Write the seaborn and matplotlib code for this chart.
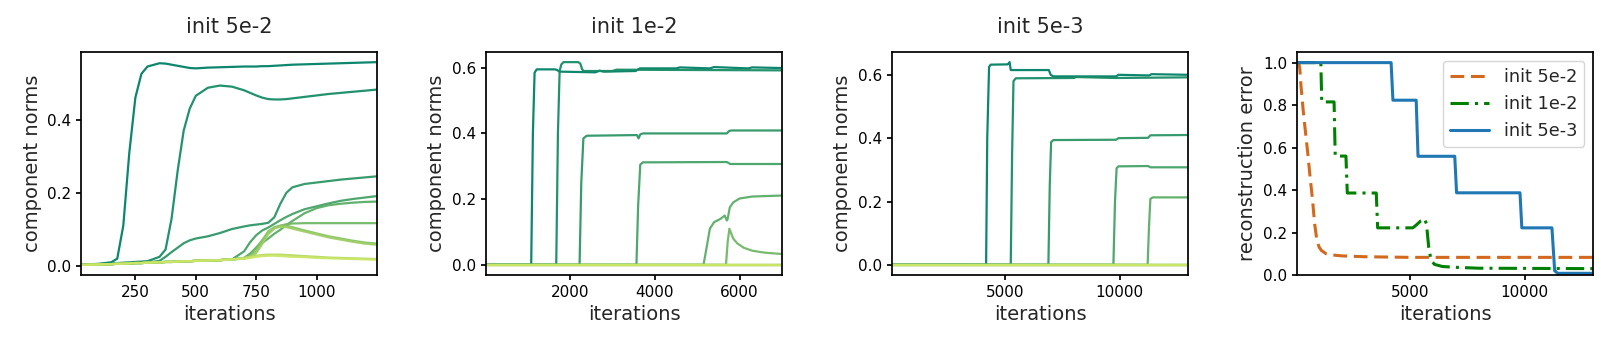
import numpy as np
import seaborn as sns
import matplotlib
matplotlib.use("Agg")
import matplotlib.pyplot as plt

# ---- panel 1: init 5e-2, 10 components on a shared iteration grid
p1_iters = [25, 100, 150, 175, 200, 225, 250, 275, 300, 350, 375, 400, 425, 450, 475,
            500, 550, 600, 650, 700, 725, 750, 775, 800, 825, 850, 875, 900, 950,
            1000, 1050, 1100, 1150, 1200, 1250]
base = [0.003, 0.004, 0.005, 0.006, 0.006, 0.007, 0.008, 0.008, 0.009, 0.010, 0.011,
        0.011, 0.012, 0.013, 0.013, 0.014, 0.015, 0.016, 0.018]
p1_norms = [
    [0.003, 0.006, 0.010, 0.020, 0.110, 0.310, 0.460, 0.525, 0.545, 0.554, 0.553, 0.550,
     0.547, 0.544, 0.541, 0.540, 0.542, 0.543, 0.544, 0.545, 0.545, 0.545, 0.546, 0.546,
     0.547, 0.548, 0.549, 0.550, 0.551, 0.552, 0.553, 0.554, 0.555, 0.556, 0.557],
    [0.003, 0.005, 0.007, 0.008, 0.009, 0.010, 0.011, 0.012, 0.013, 0.025, 0.045, 0.130,
     0.260, 0.370, 0.430, 0.465, 0.487, 0.493, 0.490, 0.480, 0.473, 0.466, 0.460, 0.456,
     0.455, 0.455, 0.456, 0.458, 0.462, 0.466, 0.470, 0.473, 0.476, 0.479, 0.482],
    base[:9] + [0.014, 0.025, 0.038, 0.050, 0.062, 0.070, 0.075, 0.081, 0.090, 0.101,
                0.108, 0.111, 0.113, 0.115, 0.118, 0.133, 0.170, 0.200, 0.215, 0.224,
                0.228, 0.232, 0.236, 0.239, 0.242, 0.245],
    base + [0.040, 0.065, 0.084, 0.097, 0.105, 0.115, 0.125, 0.134, 0.142, 0.155, 0.163,
            0.171, 0.178, 0.183, 0.187, 0.191],
    base + [0.022, 0.034, 0.050, 0.063, 0.075, 0.088, 0.099, 0.112, 0.123, 0.144, 0.158,
            0.166, 0.170, 0.173, 0.175, 0.176],
    base + [0.021, 0.030, 0.050, 0.070, 0.088, 0.103, 0.110, 0.114, 0.116, 0.117, 0.117,
            0.117, 0.117, 0.117, 0.117, 0.117],
    base + [0.021, 0.026, 0.040, 0.070, 0.095, 0.106, 0.110, 0.110, 0.106, 0.097, 0.089,
            0.081, 0.075, 0.069, 0.064, 0.061],
    base + [0.020, 0.024, 0.035, 0.060, 0.088, 0.103, 0.107, 0.106, 0.102, 0.094, 0.086,
            0.078, 0.072, 0.066, 0.061, 0.058],
    base + [0.022, 0.025, 0.028, 0.030, 0.031, 0.031, 0.031, 0.030, 0.029, 0.027, 0.025,
            0.023, 0.022, 0.021, 0.020, 0.019],
    base + [0.020, 0.022, 0.025, 0.027, 0.028, 0.028, 0.027, 0.026, 0.025, 0.024, 0.022,
            0.021, 0.020, 0.019, 0.018, 0.017],
]

# ---- panel 2: init 1e-2 (components that never grow stay at 0)
p2_iters = [
    [25, 1090, 1130, 1170, 1220, 1650, 1700, 1760, 1800, 2600, 2700, 2800, 3550, 3650, 4500, 4600, 5300, 5400, 6200, 6300, 7000],
    [25, 1680, 1720, 1760, 1800, 1850, 2200, 2250, 2290, 2330, 3000, 3100, 7000],
    [25, 2230, 2270, 2320, 2400, 3580, 3620, 3660, 3720, 5700, 5760, 5820, 7000],
    [25, 3570, 3610, 3660, 3720, 5700, 5780, 7000],
    [25, 5150, 5220, 5300, 5400, 5550, 5650, 5700, 5720, 5770, 5850, 6000, 6300, 7000],
    [25, 5680, 5720, 5760, 5850, 5950, 6100, 6300, 6600, 7000],
    [25, 7000], [25, 7000], [25, 7000], [25, 7000],
]
p2_norms = [
    [0, 0, 0.40, 0.585, 0.595, 0.595, 0.593, 0.588, 0.588, 0.586, 0.591, 0.588, 0.590, 0.598, 0.598, 0.601, 0.598, 0.602, 0.598, 0.601, 0.599],
    [0, 0, 0.40, 0.590, 0.610, 0.617, 0.617, 0.612, 0.595, 0.590, 0.590, 0.594, 0.592],
    [0, 0, 0.25, 0.385, 0.393, 0.395, 0.385, 0.397, 0.400, 0.400, 0.408, 0.409, 0.409],
    [0, 0, 0.18, 0.305, 0.312, 0.313, 0.307, 0.307],
    [0, 0, 0.05, 0.110, 0.130, 0.140, 0.150, 0.135, 0.140, 0.175, 0.190, 0.202, 0.208, 0.211],
    [0, 0, 0.07, 0.110, 0.080, 0.065, 0.052, 0.043, 0.037, 0.033],
    [0, 0], [0, 0], [0, 0], [0, 0],
]

# ---- panel 3: init 5e-3
p3_iters = [
    [25, 4150, 4200, 4280, 4350, 5100, 5180, 5230, 5300, 6900, 6980, 7100, 9850, 9950, 11300, 11400, 13000],
    [25, 5230, 5290, 5350, 5450, 8000, 8100, 9800, 9900, 13000],
    [25, 6880, 6940, 7000, 7100, 9850, 9950, 11250, 11350, 13000],
    [25, 9730, 9800, 9870, 9950, 11250, 11350, 13000],
    [25, 11230, 11290, 11350, 11450, 13000],
    [25, 13000], [25, 13000], [25, 13000], [25, 13000], [25, 13000],
]
p3_norms = [
    [0, 0, 0.40, 0.625, 0.632, 0.633, 0.640, 0.615, 0.615, 0.615, 0.600, 0.595, 0.595, 0.600, 0.598, 0.602, 0.600],
    [0, 0, 0.35, 0.580, 0.589, 0.590, 0.593, 0.590, 0.590, 0.592],
    [0, 0, 0.25, 0.388, 0.394, 0.395, 0.400, 0.401, 0.409, 0.410],
    [0, 0, 0.20, 0.305, 0.311, 0.312, 0.308, 0.308],
    [0, 0, 0.12, 0.208, 0.213, 0.213],
    [0, 0], [0, 0], [0, 0], [0, 0], [0, 0],
]

# ---- panel 4: reconstruction error
err_labels = ["init 5e-2", "init 1e-2", "init 5e-3"]
err_iters = [
    [25, 100, 150, 200, 300, 400, 500, 600, 700, 800, 900, 1000, 1100, 1300, 1600, 2000, 3000, 5000, 13000],
    [25, 1070, 1110, 1650, 1700, 2170, 2230, 3500, 3560, 5100, 5250, 5450, 5620, 5700, 5800, 5900, 6050, 6400, 7000, 8000, 13000],
    [25, 4150, 4230, 5250, 5330, 6940, 7020, 9800, 9880, 11200, 11320, 11450, 13000],
]
err_values = [
    [1.0, 1.0, 0.97, 0.89, 0.77, 0.67, 0.57, 0.46, 0.36, 0.24, 0.16, 0.13, 0.115, 0.10, 0.094, 0.09, 0.086, 0.083, 0.083],
    [1.0, 1.0, 0.815, 0.815, 0.56, 0.56, 0.386, 0.386, 0.222, 0.222, 0.235, 0.255, 0.265, 0.24, 0.13, 0.07, 0.05, 0.04, 0.036, 0.032, 0.03],
    [1.0, 1.0, 0.823, 0.823, 0.559, 0.559, 0.387, 0.387, 0.222, 0.222, 0.02, 0.008, 0.008],
]
err_colors = ["#d2691e", "green", "tab:blue"]
err_dashes = [(4.5, 2.2), (6, 2, 1, 2), ""]

titles = ["init 5e-2", "init 1e-2", "init 5e-3"]

sns.set_theme(style="ticks", rc={"axes.edgecolor": "black", "xtick.major.size": 3.5,
                                 "ytick.major.size": 3.5, "xtick.color": "black",
                                 "ytick.color": "black"})
plt.rcParams['font.family'] = ['DejaVu Sans']

comp_colors = plt.get_cmap("summer")(np.linspace(0, 0.8, 10))

fig = plt.figure(figsize=(16.1, 3.46), dpi=100)
lefts = [81, 486, 892, 1297]
axes = [fig.add_axes([l / 1610, 71 / 346, 296 / 1610, 223 / 346]) for l in lefts]

# component norm panels
panels = [
    ([p1_iters] * 10, p1_norms, (25, 1250), [250, 500, 750, 1000], [0, 0.2, 0.4]),
    (p2_iters, p2_norms, (25, 7000), [2000, 4000, 6000], [0, 0.2, 0.4, 0.6]),
    (p3_iters, p3_norms, (25, 13000), [5000, 10000], [0, 0.2, 0.4, 0.6]),
]
for i, (xs, ys, xl, xt, yt) in enumerate(panels):
    ax = axes[i]
    for k in range(len(ys)):
        sns.lineplot(x=xs[k], y=ys[k], ax=ax, color=comp_colors[k], lw=1.6,
                     alpha=0.95, sort=False, estimator=None)
    ax.set_xlim(*xl)
    ax.set_xticks(xt)
    ax.set_yticks(yt)
    ax.set_title(titles[i], fontsize=15, pad=14)
    ax.set_ylabel("component norms", fontsize=14)
    ax.set_xlabel("iterations", fontsize=14)
    ax.tick_params(labelsize=11)

ax = axes[3]
for k in range(3):
    sns.lineplot(x=err_iters[k], y=err_values[k], ax=ax, color=err_colors[k],
                 lw=2.2, sort=False, estimator=None, label=err_labels[k])
    if err_dashes[k]:
        ax.lines[-1].set_dashes(err_dashes[k])
ax.set_xlim(25, 13000)
ax.set_ylim(0, 1.05)
ax.set_xticks([5000, 10000])
ax.set_yticks([0, 0.2, 0.4, 0.6, 0.8, 1.0])
ax.set_ylabel("reconstruction error", fontsize=14)
ax.set_xlabel("iterations", fontsize=14)
ax.tick_params(labelsize=11)
ax.legend(loc="upper right", fontsize=12.8, handlelength=2.2)

fig.savefig("out.png", dpi=100)
